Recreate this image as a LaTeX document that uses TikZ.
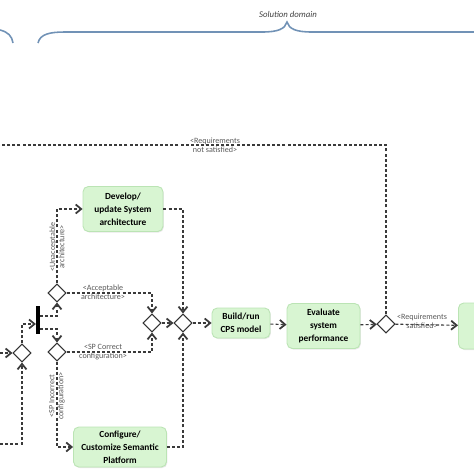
\documentclass[tikz,border=0pt]{standalone}
\usepackage{fontspec}
\setmainfont{Carlito}
\usetikzlibrary{arrows.meta,shapes.geometric,calc,shadows}
\definecolor{actfill}{HTML}{D8F5D2}
\definecolor{actline}{HTML}{BBE4B4}
\definecolor{braceblue}{HTML}{7192B6}
\definecolor{flowgray}{HTML}{3A3A3A}

\begin{document}
\begin{tikzpicture}[x=0.02cm,y=-0.02cm,
 act/.style={draw=actline,fill=actfill,rounded corners=3pt,line width=.5pt,align=center,inner sep=2pt,
  drop shadow={opacity=.18,shadow xshift=.5pt,shadow yshift=-.6pt},font=\bfseries\fontsize{5.3}{7.4}\selectfont},
 gate/.style={diamond,draw=black!80,line width=.6pt,fill=white,inner sep=0pt,minimum size=0.36cm},
 forkbar/.style={fill=black,inner sep=0pt,minimum width=0.07cm,minimum height=0.56cm},
 flow/.style={draw=flowgray,line width=.65pt,dash pattern=on 1.7pt off 1.2pt,-{Straight Barb[length=1.1mm,width=1.8mm,line width=1pt]}},
 lab/.style={font=\fontsize{4.6}{5.2}\selectfont,text=black!65,align=center,inner sep=0pt}]
\useasboundingbox (0,0) rectangle (474,474);
\clip (0,0) rectangle (474,474);
% domain braces
\draw[braceblue,line width=.9pt] (0,30) .. controls (8,32) and (12,36) .. (13,43);
\draw[braceblue,line width=.9pt] (38,43) .. controls (40,34) and (50,32) .. (65,32) -- (262,32)
 .. controls (278,32) and (285,29) .. (287,22) .. controls (289,29) and (296,32) .. (312,32) -- (480,32);
\node[font=\itshape\fontsize{5}{6}\selectfont,text=black!75] (soldom) at (288,14) {Solution domain};
% activities
\node[act,minimum width=1.6cm,minimum height=0.9cm] (dev) at (123,209) {Develop/\\update System\\architecture};
\node[act,minimum width=1.86cm,minimum height=0.8cm] (cfg) at (120,447) {Configure/\\Customize Semantic\\Platform};
\node[act,minimum width=1.16cm,minimum height=0.6cm] (build) at (241,323) {Build/run\\CPS model};
\node[act,minimum width=1.46cm,minimum height=0.9cm] (eval) at (323.5,326) {Evaluate\\system\\performance};
\node[act,anchor=west,align=left,inner sep=2.2pt,minimum width=1.4cm,minimum height=0.92cm] (spec) at (458,326) {\mbox{}\\\mbox{}\\sp};
% gates
\node[gate] (s0) at (22,353) {};
\node[forkbar] (fork) at (38,320) {};
\node[gate] (d1) at (57,293) {};
\node[gate] (d2) at (57,352) {};
\node[gate] (m1) at (152,323) {};
\node[gate] (m2) at (183,323) {};
\node[gate] (dR) at (386,324) {};
\coordinate (inleft) at (-10,353);
\coordinate (inlow) at (-10,444);
\coordinate (back) at (-10,145);
% connectors
\draw[flow] (inleft) -- (s0.west);
\draw[flow] (inlow) -| (s0.south);
\draw[flow] (s0.north) |- (fork.west |- 0,324);
\draw[flow] (fork.east |- 0,316) -| (d1.south);
\draw[flow] (fork.east |- 0,329) -| (d2.north);
\draw[flow] (d1.north) |- (dev.west);
\draw[flow] (d1.east) -| (m1.north);
\draw[flow] (d2.east) -| (m1.south);
\draw[flow] (d2.south) |- (cfg.west);
\draw[flow] (dev.east) -| (m2.north);
\draw[flow] (cfg.east) -| (m2.south);
\draw[flow] (m1) -- (m2);
\draw[flow] (m2) -- (build);
\draw[flow] (build) -- (eval);
\draw[flow] (eval) -- (dR);
\draw[flow] (dR) -- (spec);
\draw[flow] (dR.north) |- (back);
% guard labels
\node[lab,rotate=90] (lunacc) at (57,247) {<Unacceptable\\architecture>};
\node[lab] (lacc) at (103,292) {<Acceptable\\architecture>};
\node[lab] (lspok) at (103,352) {<SP Correct\\configuration>};
\node[lab,rotate=90] (lspko) at (57,396) {<SP Incorrect\\configuration>};
\node[lab] (lrqko) at (215,145) {<Requirements\\not satisfied>};
\node[lab] (lrqok) at (422,321) {<Requirements\\satisfied>};
\end{tikzpicture}
\end{document}
